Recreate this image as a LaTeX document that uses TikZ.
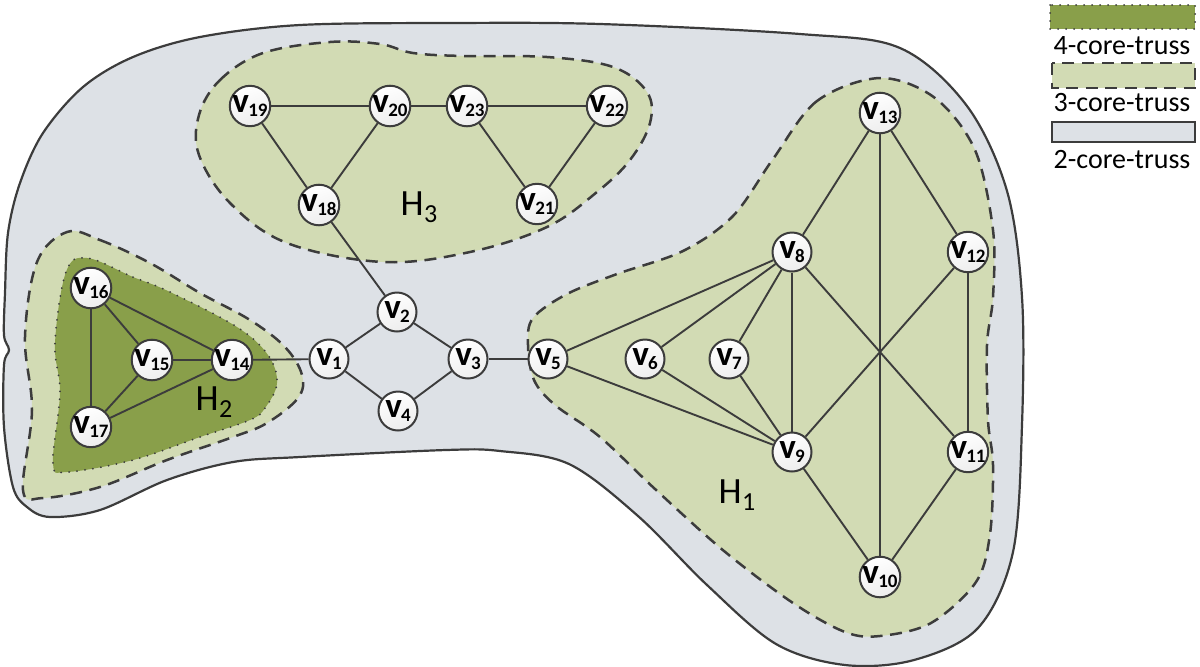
\documentclass[tikz,border=0pt]{standalone}
\usepackage{fontspec}
\setmainfont{Carlito}
\definecolor{grayfill}{HTML}{DDE1E6}
\definecolor{lightgreen}{HTML}{D2DBB4}
\definecolor{darkgreen}{HTML}{899F4A}
\definecolor{edgec}{HTML}{3C3C3C}
\pgfdeclarelayer{bg}
\pgfsetlayers{bg,main}
\newcommand\vl[1]{{\fontsize{17.5}{17.5}\selectfont\bfseries v}\kern-0.4pt\raisebox{-0.35ex}{\fontsize{9.5}{9.5}\selectfont\bfseries #1}}
\newcommand\hl[1]{{\fontsize{18.5}{18.5}\selectfont H}\kern0.3pt\raisebox{-0.7ex}{\fontsize{13}{13}\selectfont #1}}
\begin{document}
\begin{tikzpicture}[x=0.5pt,y=-0.5pt,
  vert/.style={circle,draw=edgec,line width=1pt,minimum size=19.5pt,inner sep=0pt,
    top color=white,bottom color=black!7,shading angle=20},
  edge/.style={draw=edgec,line width=0.95pt},
  twocore/.style={fill=grayfill,draw=edgec,line width=1.1pt},
  threecore/.style={fill=lightgreen,draw=edgec,line width=1.25pt,dash pattern=on 6pt off 3.8pt},
  fourcore/.style={fill=darkgreen,draw=edgec,line width=1pt,line cap=round,dash pattern=on 0pt off 4pt},
  hlabel/.style={inner sep=0pt},
  legtext/.style={inner sep=0pt,font=\fontsize{14}{14}\selectfont}]
\useasboundingbox (0,0) rectangle (1200,666);

\begin{pgfonlayer}{bg}
% outer 2-core-truss region
\path[twocore] plot[smooth cycle,tension=0.55] coordinates {
 (600,24) (800,34) (900,48) (967,106) (1007,191) (1022,297) (1022,425) (1013,552)
 (978,628) (914,660) (845,665) (776,644) (707,585) (638,516) (569,464) (500,451)
 (446,450) (300,457) (233,462) (167,480) (100,510) (50,517) (27,507) (13,487)
 (4,427) (4,365) (9,350) (4,335) (5,293) (8,233) (20,183) (43,133) (83,87)
 (133,57) (200,37) (300,25) (450,23)};

% H1 3-core
\path[threecore] plot[smooth cycle,tension=0.55] coordinates {
 (880,78) (817,101) (773,159) (733,216) (683,251) (617,274) (567,294) (533,318) (528,345)
 (534,380) (555,405) (600,437) (655,489) (724,551) (793,603) (845,632) (880,636)
 (931,623) (976,582) (990,534) (993,465) (988,420) (987,345) (993,297) (993,230)
 (975,150) (935,98)};

% H3 3-core
\path[threecore] plot[smooth cycle,tension=0.6] coordinates {
 (199,115) (220,80) (263,53) (330,42) (380,44) (413,53) (463,56) (547,57)
 (613,67) (647,92) (650,123) (630,160) (597,192) (547,227) (470,252) (383,262)
 (287,243) (230,203) (199,155)};

% H2 3-core
\path[threecore] plot[smooth cycle,tension=0.6] coordinates {
 (67,232) (100,240) (150,263) (200,293) (250,320) (285,347) (302,375) (298,398)
 (267,423) (233,437) (167,460) (100,487) (43,498) (23,490) (32,410) (25,337) (37,262)};

% H2 4-core
\path[fourcore] plot[smooth cycle,tension=0.6] coordinates {
 (87,258) (133,277) (170,292) (237,327) (268,355) (277,383) (265,408)
 (250,420) (200,437) (133,460) (67,472) (53,463) (60,393) (55,343) (66,272)};
\end{pgfonlayer}

% nodes
\node[vert] (v1) at (329,359) {\vl{1}};
\node[vert] (v2) at (397,312) {\vl{2}};
\node[vert] (v3) at (468,359) {\vl{3}};
\node[vert] (v4) at (398,411) {\vl{4}};
\node[vert] (v5) at (548,359) {\vl{5}};
\node[vert] (v6) at (645,359) {\vl{6}};
\node[vert] (v7) at (729,359) {\vl{7}};
\node[vert] (v8) at (792,252) {\vl{8}};
\node[vert] (v9) at (792,452) {\vl{9}};
\node[vert] (v10) at (880,577) {\vl{10}};
\node[vert] (v11) at (968,452) {\vl{11}};
\node[vert] (v12) at (968,252) {\vl{12}};
\node[vert] (v13) at (880,113) {\vl{13}};
\node[vert] (v14) at (232,360) {\vl{14}};
\node[vert] (v15) at (152,360) {\vl{15}};
\node[vert] (v16) at (91,288) {\vl{16}};
\node[vert] (v17) at (91,427) {\vl{17}};
\node[vert] (v18) at (319,205) {\vl{18}};
\node[vert] (v19) at (250,106) {\vl{19}};
\node[vert] (v20) at (390,106) {\vl{20}};
\node[vert] (v21) at (537,204) {\vl{21}};
\node[vert] (v22) at (607,106) {\vl{22}};
\node[vert] (v23) at (467,106) {\vl{23}};

% edges
\begin{pgfonlayer}{bg}
\foreach \a/\b in {v14/v1,v1/v2,v1/v4,v2/v3,v4/v3,v3/v5,v2/v18,
  v16/v15,v16/v14,v16/v17,v15/v14,v15/v17,v17/v14,
  v19/v20,v20/v23,v23/v22,v19/v18,v20/v18,v23/v21,v22/v21,
  v5/v8,v5/v9,v6/v8,v6/v9,v7/v8,v7/v9,v8/v9,v8/v13,v8/v11,v9/v12,v9/v10,
  v13/v12,v13/v10,v12/v11,v11/v10}
  \draw[edge] (\a) -- (\b);
\end{pgfonlayer}

% labels
\node[hlabel] (h1) at (737,495) {\hl{1}};
\node[hlabel] (h2) at (214,402) {\hl{2}};
\node[hlabel] (h3) at (419,207) {\hl{3}};

% legend
\path[fourcore] (1050,5) rectangle (1195,29);
\node[legtext] (l4) at (1122,46) {4-core-truss};
\path[threecore] (1052,63) rectangle (1195,88);
\node[legtext] (l3) at (1122,103) {3-core-truss};
\path[twocore] (1052,122) rectangle (1195,142);
\node[legtext] (l2) at (1122,160) {2-core-truss};
\end{tikzpicture}
\end{document}
